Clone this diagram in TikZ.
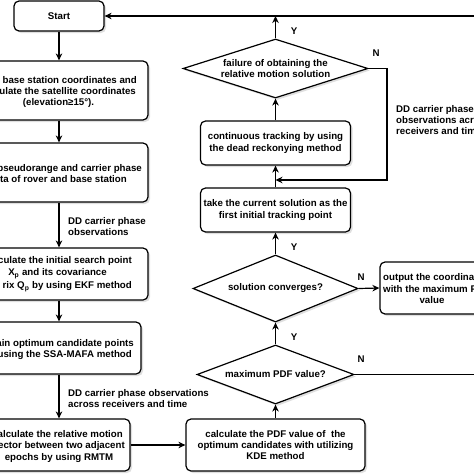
\documentclass[tikz,border=0pt]{standalone}
\usepackage{fontspec}
\setmainfont{Liberation Sans}
\usetikzlibrary{shapes.geometric,arrows.meta,shadows}
\tikzset{
  txt/.style={font=\fontsize{9.7}{11.4}\selectfont\bfseries, inner sep=0pt},
  shad/.style={drop shadow={shadow xshift=2pt,shadow yshift=-2pt,opacity=0.25}},
  box/.style={draw, line width=1.2pt, rounded corners=5pt, fill=white, shad, txt, align=center},
  dia/.style={draw, diamond, line width=1.2pt, fill=white, shad, txt, align=center, inner sep=0pt},
  arr/.style={line width=1.2pt, -{Stealth[length=7pt,width=6.5pt]}},
  ln/.style={line width=1.2pt},
  lr/.style={txt, anchor=base east},
  ll/.style={txt, anchor=base west},
  lc/.style={txt, anchor=base},
}
\begin{document}
\begin{tikzpicture}[x=1pt,y=-1pt]
\useasboundingbox (0,0) rectangle (474,474);
\fill[white] (0,0) rectangle (474,474);
\clip (0,0) rectangle (474,474);

% left column
\node[box, minimum width=90pt, minimum height=30pt] (start) at (59,16) {Start};
\node[box, minimum width=178pt, minimum height=59pt] (b2) at (59,90.5) {};
\node[box, minimum width=178pt, minimum height=59pt] (b3) at (59,172.5) {};
\node[box, minimum width=178pt, minimum height=52pt] (b4) at (59,274) {};
\node[box, minimum width=164pt, minimum height=52pt] (b5) at (59,348) {};
\node[box, minimum width=142pt, minimum height=52pt] (b6) at (59,445) {};

\node[lr] (t2a) at (137,83.5) {base station coordinates and};
\node[lr] (t2b) at (136,94.5) {ulate the satellite coordinates};
\node[lc] (t2c) at (58.5,105.5) {(elevation≥15°).};

\node[lr] (t3a) at (142,171.5) {pseudorange and carrier phase};
\node[lr] (t3b) at (127,182.5) {ta of rover and base station};

\node[lr] (t4a) at (132,263.5) {culate the initial search point};
\node[lc] (t4b) at (57.5,275.5) {X\textsubscript{p} and its covariance};
\node[lr] (t4c) at (132,288.5) {rix Q\textsubscript{p} by using EKF method};

\node[lr] (t5a) at (134,346.5) {ain optimum candidate points};
\node[lr] (t5b) at (132,357.5) {using the SSA-MAFA method};

\node[lr] (t6a) at (123,437.5) {alculate the relative motion};
\node[lr] (t6b) at (125,448.5) {ector between two adjacent};
\node[lc] (t6c) at (59,460.5) {epochs by using RMTM};

\node[ll] (l1a) at (68,224) {DD carrier phase};
\node[ll] (l1b) at (68,235.5) {observations};
\node[ll] (l2a) at (68,396) {DD carrier phase observations};
\node[ll] (l2b) at (68,407) {across receivers and time};

% middle column
\node[box, minimum width=179pt, minimum height=52pt] (b7) at (275.5,445) {calculate the PDF value of\ \ the\\optimum candidates with utilizing\\KDE method};
\node[dia, aspect=2.66, minimum width=157pt, minimum height=59pt] (dmax) at (275.5,374.5) {maximum PDF value?};
\node[dia, aspect=2.46, minimum width=165pt, minimum height=67pt] (dsol) at (275.5,288.5) {solution converges?};
\node[box, minimum width=150pt, minimum height=44pt] (take) at (275.5,210) {take the current solution as the\\first initial tracking point};
\node[box, minimum width=150pt, minimum height=44pt] (cont) at (275.5,143) {continuous tracking by using\\the dead reckonying method};
\node[dia, aspect=3.1, minimum width=185pt, minimum height=59pt] (dfail) at (275.5,68.5) {failure of obtaining the\\relative motion solution};

% right column
\node[box, minimum width=104pt, minimum height=52pt] (out) at (432,288) {};
\node[ll] (t8a) at (383,280.5) {output the coordina};
\node[ll] (t8b) at (383,292.5) {with the maximum P};
\node[lc] (t8c) at (432,303.5) {value};

\node[ll] (l3a) at (396,112.5) {DD carrier phase};
\node[ll] (l3b) at (396,123.5) {observations acr};
\node[ll] (l3c) at (396,134.5) {receivers and tim};

% connectors
\coordinate (topR) at (480,16);
\coordinate (topJ) at (275.5,16);
\coordinate (nR1) at (387,68.5);
\coordinate (nR2) at (387,180);
\coordinate (nJ) at (275.5,180);
\coordinate (maxR) at (480,374.5);

\draw[arr] (start.south) -- (b2.north);
\draw[arr] (b2.south) -- (b3.north);
\draw[arr] (b3.south) -- (b4.north);
\draw[arr] (b4.south) -- (b5.north);
\draw[arr] (b5.south) -- (b6.north);
\draw[arr] (b6.east) -- (b7.west);
\draw[arr] (b7.north) -- (dmax.south);
\draw[arr] (dmax.north) -- (dsol.south);
\draw[arr] (dsol.east) -- (out.west);
\draw[arr] (dsol.north) -- (take.south);
\draw[arr] (take.north) -- (cont.south);
\draw[arr] (cont.north) -- (dfail.south);
\draw[arr] (dfail.north) -- (topJ);
\draw[arr] (topR) -- (start.east);
\draw[arr] (dfail.east) -- (nR1) -- (nR2) -- (nJ);
\draw[ln] (dmax.east) -- (maxR);

% Y/N labels
\node[txt] (y1) at (294,31) {Y};
\node[txt] (n1) at (376,53) {N};
\node[txt] (y2) at (294,247) {Y};
\node[txt] (n2) at (361,277) {N};
\node[txt] (y3) at (294,337) {Y};
\node[txt] (n3) at (361,359) {N};
\end{tikzpicture}
\end{document}
